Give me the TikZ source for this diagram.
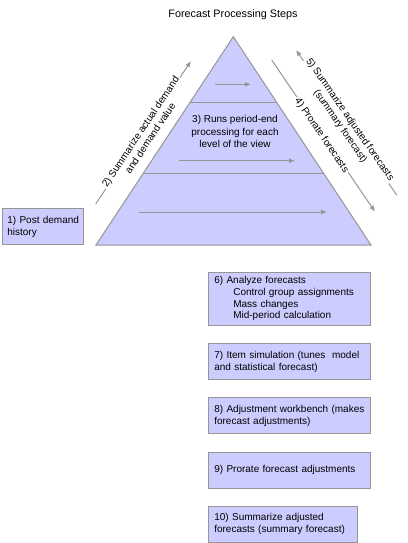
\documentclass[tikz,border=0pt]{standalone}
\usepackage{fontspec}
\setmainfont{Liberation Sans}
\usetikzlibrary{arrows.meta,calc}
\definecolor{lav}{RGB}{204,204,255}
\definecolor{edge}{RGB}{150,150,150}

\begin{document}
\begin{tikzpicture}[x=1pt,y=-1pt,
  box/.style={draw=edge,fill=lav,line width=1pt,rectangle,anchor=north west,
    minimum height=36pt,inner xsep=5.5pt,text width=151pt,align=left,
    font=\fontsize{10}{11.7}\selectfont},
  flow/.style={draw=edge,line width=1pt,-{Latex[length=6pt,width=5pt]}},
  label/.style={font=\fontsize{10}{11.7}\selectfont,align=center,inner sep=0pt},
  onarrow/.style={label,fill=white,inner sep=1.5pt}]
  \useasboundingbox (0,0) rectangle (407,543);
  \node[font=\fontsize{10.8}{12}\selectfont] (title) at (233,15) {Forecast Processing Steps};
  % pyramid
  \coordinate (top) at (233.3,36.7);
  \coordinate (bl) at (96,245);
  \coordinate (br) at (371,245);
  \filldraw[fill=lav,draw=edge,line width=1pt] (top) -- (bl) -- (br) -- cycle;
  \coordinate (l1) at ($(top)!0.315!(bl)$);
  \coordinate (r1) at ($(top)!0.315!(br)$);
  \coordinate (l2) at ($(top)!0.656!(bl)$);
  \coordinate (r2) at ($(top)!0.656!(br)$);
  \draw[edge,line width=1pt] (l1) -- (r1);
  \draw[edge,line width=1pt] (l2) -- (r2);
  % level arrows
  \coordinate (a1) at (215,84.3);   \coordinate (b1) at (251,84.3);
  \coordinate (a2) at (179,160.7);  \coordinate (b2) at (295,160.7);
  \coordinate (a3) at (139,212);    \coordinate (b3) at (327,212);
  \draw[flow] (a1) -- (b1);
  \draw[flow] (a2) -- (b2);
  \draw[flow] (a3) -- (b3);
  \node[label,font=\fontsize{10}{12.5}\selectfont] (s3) at (235,131.5) {3) Runs period-end\\processing for each\\level of the view};
  % side arrows, texts sit on them
  \coordinate (u0) at (95.7,204);   \coordinate (u1) at (191,61);
  \coordinate (p0) at (271.7,60);   \coordinate (p1) at (375,211.7);
  \coordinate (q0) at (396.7,195);  \coordinate (q1) at (296,50);
  \draw[flow] (u0) -- (u1);
  \draw[flow] (p0) -- (p1);
  \draw[flow] (q0) -- (q1);
  \node[onarrow,rotate=56.3] (s2) at (145.2,134.9) {2) Summarize actual demand\\and demand value};
  \node[onarrow,rotate=-55.7] (s4) at (321.5,135.5) {4) Prorate forecasts};
  \node[onarrow,rotate=-55.2] (s5) at (345,123.1) {5) Summarize adjusted forecasts\\(summary forecast)};
  % steps
  \node[box,inner xsep=4.5pt,text width=72pt] (s1) at (2.3,208.3) {1) Post demand\\history};
  \node[box,minimum height=53.3pt] (s6) at (208.3,271.7)
    {6) Analyze forecasts\\\hspace*{19pt}Control group assignments\\\hspace*{19pt}Mass changes\\\hspace*{19pt}Mid-period calculation};
  \node[box] (s7) at (208.3,343.3) {7) Item simulation (tunes\ \ model\\and statistical forecast)};
  \node[box] (s8) at (208.3,397.3) {8) Adjustment workbench (makes\\forecast adjustments)};
  \node[box] (s9) at (208.3,451.7) {9) Prorate forecast adjustments};
  \node[box,text width=138pt] (s10) at (208.3,505.7) {10) Summarize adjusted\\forecasts (summary forecast)};
\end{tikzpicture}
\end{document}
